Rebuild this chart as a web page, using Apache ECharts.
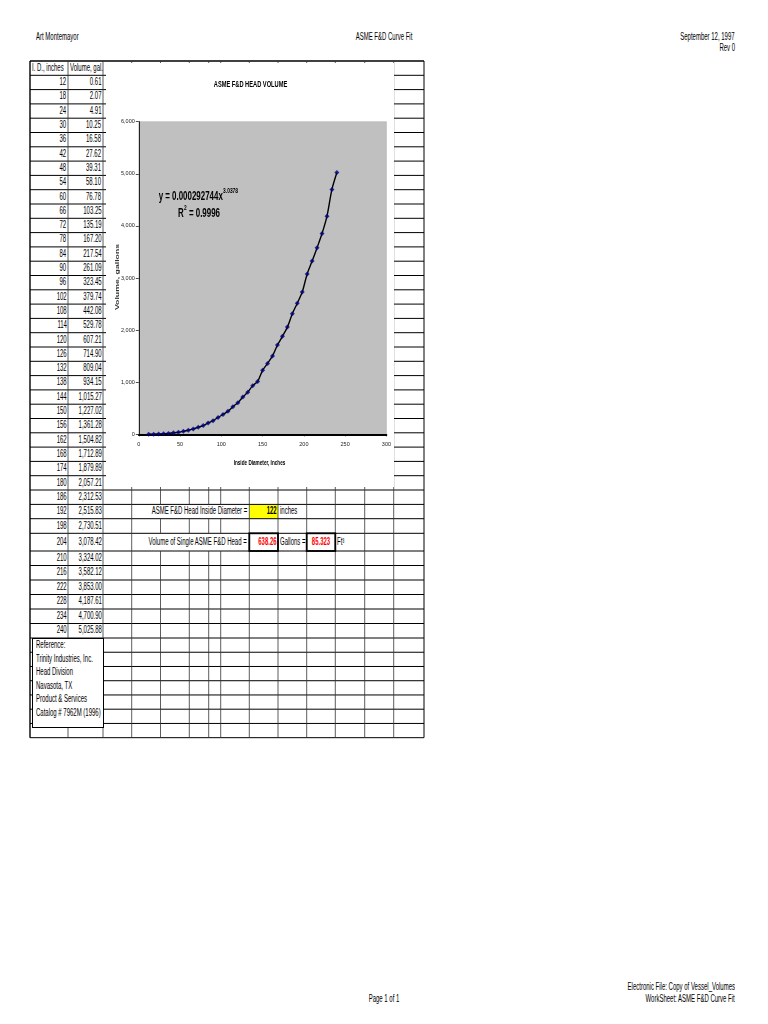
<!DOCTYPE html>
<html>
<head>
<meta charset="utf-8">
<script src="https://cdn.jsdelivr.net/npm/echarts@6/dist/echarts.min.js"></script>
<style>
html,body{margin:0;padding:0;background:#fff;}
#page{position:relative;width:768px;height:1024px;overflow:hidden;background:#fff;}
#grid{position:absolute;left:0;top:0;}
#chart{position:absolute;left:105.5px;top:63px;width:287.5px;height:424px;background:#fff;}
#refbox{position:absolute;left:32px;top:637.5px;width:69.5px;height:88px;border:1px solid #000;background:#fff;}
.t{position:absolute;white-space:nowrap;font-family:'Liberation Sans',Arial,sans-serif;color:#000;}
</style>
</head>
<body>
<div id="page">
<svg id="grid" width="768" height="1024"></svg>
<div id="chart"></div>
<div id="refbox"></div>
</div>
<script>
// ---------------- DATA ----------------
const diameters = [12,18,24,30,36,42,48,54,60,66,72,78,84,90,96,102,108,114,120,126,132,138,144,150,156,162,168,174,180,186,192,198,204,210,216,222,228,234,240];
const volumes = [0.61,2.07,4.91,10.25,16.58,27.62,39.31,58.10,76.78,103.25,135.19,167.20,217.54,261.09,323.45,379.74,442.08,529.78,607.21,714.90,809.04,934.15,1015.27,1227.02,1361.28,1504.82,1712.89,1879.89,2057.21,2312.53,2515.83,2730.51,3078.42,3324.02,3582.12,3853.00,4187.61,4700.90,5025.88];
const xTicks = [0,50,100,150,200,250,300];
const yTicks = [0,1000,2000,3000,4000,5000,6000];
const referenceLines = ['Reference:','Trinity Industries, Inc.','Head Division','Navasota, TX','Product & Services','Catalog # 7962M (1996)'];
const inputDiameter = 122;
const headGallons = '638.26';
const headCubicFeet = '85.323';
const fitMain = 'y = 0.000292744x';
const fitExponent = '3.0378';
const fitR2 = '0.9996';

// ---------------- SPREADSHEET GRID ----------------
const NS = 'http://www.w3.org/2000/svg';
const svg = document.getElementById('grid');
const page = document.getElementById('page');
function line(x1,y1,x2,y2,w,c){
  const l=document.createElementNS(NS,'line');
  l.setAttribute('x1',x1);l.setAttribute('y1',y1);l.setAttribute('x2',x2);l.setAttribute('y2',y2);
  l.setAttribute('stroke',c);l.setAttribute('stroke-width',w);svg.appendChild(l);
}
function rect(x,y,w,h,fill,stroke,sw){
  const r=document.createElementNS(NS,'rect');
  r.setAttribute('x',x);r.setAttribute('y',y);r.setAttribute('width',w);r.setAttribute('height',h);
  r.setAttribute('fill',fill);
  if(stroke){r.setAttribute('stroke',stroke);r.setAttribute('stroke-width',sw);}
  svg.appendChild(r);
}
const colX = [30,68,103,131.7,160.5,189.3,208.7,220.7,249.3,278,306.7,335.3,364.7,393.7,424];
const rowY = [61,75.3];
for(let k=1;k<=29;k++) rowY.push(75.3+14.3*k);
rowY.push(504.4,518.7,533.3,551);
for(let k=1;k<=6;k++) rowY.push(551+14.5*k);
for(let k=1;k<=7;k++) rowY.push(638+14.24*k);
const gridBottom = rowY[rowY.length-1];
const rowDia = 31, rowVol = 33; // index of row top in rowY

// yellow input cell
rect(249.3,rowY[rowDia],28.7,rowY[rowDia+1]-rowY[rowDia],'#ffff00');

rowY.forEach((y,i)=>line(30,y,424,y,i===0?1.6:1,'#000'));
const hiddenCols=[160.5,189.3,208.7,220.7];
colX.forEach(x=>{
  const w = (x===30)?1.4:(x===424?1:0.8);
  const c = (x===30||x===424)?'#000':'#333';
  if(hiddenCols.includes(x)){
    line(x,61,x,rowY[rowDia],w,c);
    line(x,rowY[rowDia+1],x,rowY[rowVol],w,c);
    line(x,rowY[rowVol+1],x,gridBottom,w,c);
  } else line(x,61,x,gridBottom,w,c);
});
// result boxes
rect(249.3,rowY[rowVol],28.7,rowY[rowVol+1]-rowY[rowVol],'none','#000',1.8);
rect(306.7,rowY[rowVol],28.6,rowY[rowVol+1]-rowY[rowVol],'none','#000',1.8);

// ---------------- TEXT ----------------
const SX = 0.6;
function txt(x,y,s,o){
  o=o||{};
  const fs=o.size||10, sx=o.sx||SX, al=o.align||'left';
  const el=document.createElement('div');
  el.className='t'; el.textContent=s;
  el.style.fontSize=fs+'px'; el.style.lineHeight=fs+'px';
  el.style.top=(y-fs/2)+'px';
  if(o.bold) el.style.fontWeight='bold';
  if(o.color) el.style.color=o.color;
  if(al==='left'){el.style.left=x+'px';el.style.transformOrigin='0 50%';el.style.transform='scaleX('+sx+')';}
  else if(al==='right'){el.style.right=(768-x)+'px';el.style.transformOrigin='100% 50%';el.style.transform='scaleX('+sx+')';}
  else {el.style.left=x+'px';el.style.transformOrigin='50% 50%';el.style.transform='translateX(-50%) scaleX('+sx+')';}
  page.appendChild(el);
}
function rowMid(i){return (rowY[i]+rowY[i+1])/2-0.3;}

// header / footer
txt(36,37,'Art Montemayor');
txt(384,37,'ASME F&D Curve Fit',{align:'center'});
txt(735,37,'September 12, 1997',{align:'right'});
txt(735,48,'Rev 0',{align:'right'});
txt(735,987,'Electronic File: Copy of Vessel_Volumes',{align:'right'});
txt(735,999,'WorkSheet: ASME F&D Curve Fit',{align:'right'});
txt(384,999,'Page 1 of 1',{align:'center'});

// table
txt(32,rowMid(0),'I. D., inches');
txt(69.5,rowMid(0),'Volume, gal.');
const fmt = v=>v.toLocaleString('en-US',{minimumFractionDigits:2,maximumFractionDigits:2});
diameters.forEach((d,k)=>{
  txt(66.5,rowMid(k+1),String(d),{align:'right'});
  txt(101.5,rowMid(k+1),fmt(volumes[k]),{align:'right'});
});
referenceLines.forEach((s,i)=>txt(35.5,645+13.5*i,s));

// calculator cells
txt(246.8,rowMid(rowDia),'ASME F&D Head Inside Diameter =',{align:'right'});
txt(276.5,rowMid(rowDia),String(inputDiameter),{align:'right',bold:true});
txt(279.5,rowMid(rowDia),'inches');
txt(246.5,rowMid(rowVol),'Volume of Single ASME F&D Head =',{align:'right'});
txt(276.5,rowMid(rowVol),headGallons,{align:'right',color:'#ff0000',bold:true});
txt(279.5,rowMid(rowVol),'Gallons =');
txt(321,rowMid(rowVol),headCubicFeet,{align:'center',color:'#ff0000',bold:true});
txt(337,rowMid(rowVol),'Ft\u00B3');

// ---------------- CHART ----------------
const FN = "'Liberation Sans Narrow','Liberation Sans',Arial,sans-serif";
const FB = "'Liberation Sans',Arial,sans-serif";
const pts = diameters.map((d,i)=>[d,volumes[i]]);
const chart = echarts.init(document.getElementById('chart'));
const OX = 105.5, OY = 63; // chart container origin on the page
chart.setOption({
  animation:false,
  backgroundColor:'#ffffff',
  grid:{left:32.8,top:58.7,width:248.4,height:312.6,show:true,backgroundColor:'#c0c0c0',borderColor:'#a8a8a8',borderWidth:0.5},
  xAxis:{type:'value',min:xTicks[0],max:xTicks[xTicks.length-1],interval:xTicks[1]-xTicks[0],
    axisLine:{show:true,onZero:false,lineStyle:{color:'#000',width:1.8}},
    axisTick:{show:true,length:2,lineStyle:{color:'#000',width:0.8}},
    splitLine:{show:false},
    axisLabel:{fontSize:5.5,color:'#222',margin:7,fontFamily:FN}},
  yAxis:{type:'value',min:yTicks[0],max:yTicks[yTicks.length-1],interval:yTicks[1]-yTicks[0],
    axisLine:{show:true,lineStyle:{color:'#222',width:1}},
    axisTick:{show:true,length:3,lineStyle:{color:'#222',width:0.8}},
    splitLine:{show:false},
    axisLabel:{fontSize:5.5,color:'#222',margin:4,fontFamily:FN,formatter:v=>v.toLocaleString('en-US')}},
  series:[
    {type:'line',data:pts,smooth:0.3,symbol:'none',showSymbol:false,lineStyle:{color:'#000',width:1.4},z:2,silent:true},
    {type:'scatter',data:pts,symbol:'diamond',symbolSize:5,itemStyle:{color:'#000080'},z:3}
  ],
  graphic:[
    {type:'text',x:250-OX,y:84-OY,scaleX:0.6,style:{text:'ASME F&D HEAD VOLUME',fontSize:9.5,fontWeight:'bold',fontFamily:FB,fill:'#000',align:'center',verticalAlign:'middle'}},
    {type:'text',x:259-OX,y:463-OY,scaleX:0.62,style:{text:'Inside Diameter, Inches',fontSize:7.5,fontWeight:'bold',fontFamily:FB,fill:'#000',align:'center',verticalAlign:'middle'}},
    {type:'text',x:117-OX,y:277-OY,rotation:Math.PI/2,scaleX:1.45,style:{text:'Volume, gallons',fontSize:6,fontWeight:'bold',fontFamily:FB,fill:'#333',align:'center',verticalAlign:'middle'}},
    {type:'text',x:222.3-OX,y:196.7-OY,scaleX:0.61,style:{text:fitMain,fontSize:13,fontWeight:'bold',fontFamily:FB,fill:'#000',align:'right',verticalAlign:'middle'}},
    {type:'text',x:222.6-OX,y:190.5-OY,scaleX:0.61,style:{text:fitExponent,fontSize:8,fontWeight:'bold',fontFamily:FB,fill:'#000',align:'left',verticalAlign:'middle'}},
    {type:'text',x:183.3-OX,y:213.3-OY,scaleX:0.61,style:{text:'R',fontSize:13,fontWeight:'bold',fontFamily:FB,fill:'#000',align:'right',verticalAlign:'middle'}},
    {type:'text',x:183.5-OX,y:208-OY,scaleX:0.61,style:{text:'2',fontSize:8,fontWeight:'bold',fontFamily:FB,fill:'#000',align:'left',verticalAlign:'middle'}},
    {type:'text',x:186.2-OX,y:213.3-OY,scaleX:0.61,style:{text:' = '+fitR2,fontSize:13,fontWeight:'bold',fontFamily:FB,fill:'#000',align:'left',verticalAlign:'middle'}}
  ]
});
</script>
</body>
</html>
